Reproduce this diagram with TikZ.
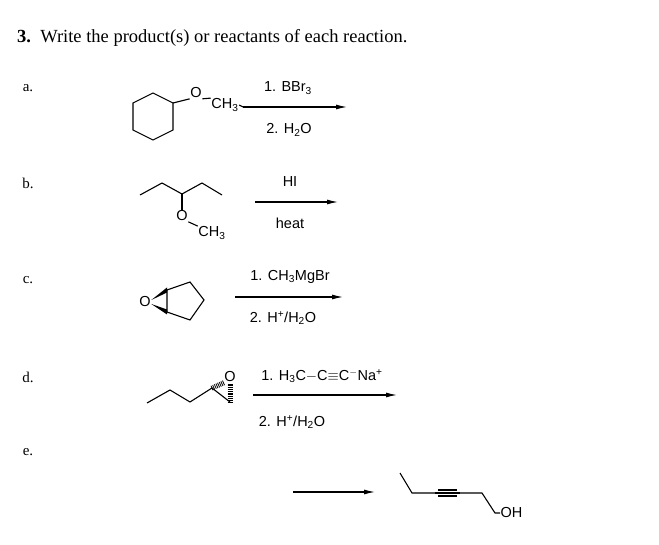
\documentclass[tikz,border=0pt]{standalone}
\usepackage{fontspec}
\setmainfont{Liberation Serif}
\newfontfamily\chem{Liberation Sans}
\usetikzlibrary{arrows.meta,decorations.pathreplacing,calc}
\newcommand{\sbs}[1]{\textsubscript{#1}}
\newcommand{\sps}[1]{\textsuperscript{#1}}
\begin{document}
\begin{tikzpicture}[x=1pt,y=-1pt,
  bond/.style={line width=1.1pt},
  rxn/.style={line width=1.1pt,-{Latex[length=11pt,width=5pt]}},
  lbl/.style={font=\chem\fontsize{14.5}{17}\selectfont,inner sep=0pt},
  atom/.style={font=\chem\fontsize{14.5}{17}\selectfont,inner sep=0.5pt},
  letter/.style={font=\fontsize{15}{17}\selectfont,inner sep=0pt},
  hash/.style={decorate,decoration={ticks,segment length=1.8pt,amplitude=2.5pt},line width=0.8pt}]
\useasboundingbox (0,0) rectangle (659,545);
\node[anchor=west,inner sep=0pt,font=\fontsize{18.5}{21}\selectfont] (title) at (17,38) {\textbf{3.}\ \ Write the product(s) or reactants of each reaction.};
\node[letter] (la) at (28,88) {a.};
\node[letter] (lb) at (28,183) {b.};
\node[letter] (lc) at (28,280) {c.};
\node[letter] (ld) at (28,377) {d.};
\node[letter] (le) at (28,452) {e.};
% a
\coordinate (a1) at (133,103); \coordinate (a2) at (153,93); \coordinate (a3) at (173,103);
\coordinate (a4) at (173,130); \coordinate (a5) at (153,140); \coordinate (a6) at (133,130);
\draw[bond] (a1)--(a2)--(a3)--(a4)--(a5)--(a6)--cycle;
\node[atom] (aO) at (196,93) {O};
\node[atom] (aC) at (225,105) {CH\sbs{3}};
\draw[bond] (a3)--(aO.south west);
\draw[bond] (aO.south east)--(aC.north west);
\coordinate (aA1) at (243,107); \coordinate (aA2) at (347,107);
\draw[bond] (aC.east)--(aA1);
\draw[rxn] (aA1)--(aA2);
\node[lbl] (ar1) at (288,88) {1. BBr\sbs{3}};
\node[lbl] (ar2) at (289,130) {2. H\sbs{2}O};
% b
\coordinate (b1) at (140,195); \coordinate (b2) at (162,183); \coordinate (b3) at (182,194);
\coordinate (b4) at (202,183); \coordinate (b5) at (222,195);
\draw[bond] (b1)--(b2)--(b3)--(b4)--(b5);
\node[atom] (bO) at (182,216) {O};
\node[atom] (bC) at (212,233) {CH\sbs{3}};
\draw[bond] (b3)--(bO.north);
\draw[bond] (bO.south east)--(bC.north west);
\coordinate (bA1) at (255,202); \coordinate (bA2) at (338,202);
\draw[rxn] (bA1)--(bA2);
\node[lbl] (br1) at (290,182) {HI};
\node[lbl] (br2) at (290,223) {heat};
% c
\node[atom] (cO) at (145,302) {O};
\coordinate (c1) at (167,290); \coordinate (c2) at (190,282); \coordinate (c3) at (204,300);
\coordinate (c4) at (190,320); \coordinate (c5) at (167,312);
\draw[bond] (c1)--(c2)--(c3)--(c4)--(c5)--cycle;
\fill ($(cO.east)+(0,-2)$) -- ($(c1)+(0,-2.5)$) -- ($(c1)+(0,2.5)$) -- cycle;
\fill ($(cO.east)+(0,2)$) -- ($(c5)+(0,-2.5)$) -- ($(c5)+(0,2.5)$) -- cycle;
\coordinate (cA1) at (235,297); \coordinate (cA2) at (343,297);
\draw[rxn] (cA1)--(cA2);
\node[lbl] (cr1) at (290,277) {1. CH\sbs{3}MgBr};
\node[lbl] (cr2) at (283,318) {2. H\sps{+}/H\sbs{2}O};
% d
\coordinate (d1) at (147,403); \coordinate (d2) at (170,390); \coordinate (d3) at (190,402);
\coordinate (d4) at (212,388); \coordinate (d5) at (230,402);
\node[atom] (dO) at (230,377) {O};
\draw[bond] (d1)--(d2)--(d3)--(d4)--(d5);
\draw[hash] (d4)--(dO.south west);
\draw[hash] (d5)--(dO.south);
\coordinate (dA1) at (253,395); \coordinate (dA2) at (397,395);
\draw[rxn] (dA1)--(dA2);
\node[lbl] (dr1) at (322,376) {1. H\sbs{3}C$-$C$\equiv$C\sps{$-$}Na\sps{+}};
\node[lbl] (dr2) at (292,422) {2. H\sps{+}/H\sbs{2}O};
% e
\coordinate (eA1) at (293,492); \coordinate (eA2) at (375,492);
\draw[rxn] (eA1)--(eA2);
\coordinate (e1) at (400,473); \coordinate (e2) at (412,493); \coordinate (e3) at (435,493);
\coordinate (e4) at (460,493); \coordinate (e5) at (482,493); \coordinate (e6) at (495,513);
\node[atom,anchor=west] (eOH) at (500,513) {OH};
\draw[bond] (e1)--(e2)--(e3);
\draw[bond] (e3)--(e4);
\draw[bond] ($(e3)+(3,-3)$)--($(e4)+(-3,-3)$);
\draw[bond] ($(e3)+(3,3)$)--($(e4)+(-3,3)$);
\draw[bond] (e4)--(e5)--(e6)--(eOH.west);
\end{tikzpicture}
\end{document}
